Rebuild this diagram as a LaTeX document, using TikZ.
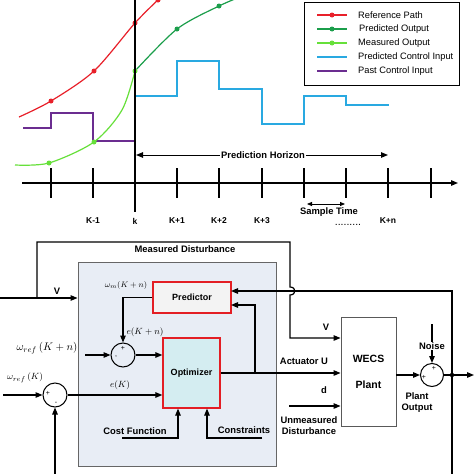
\documentclass[tikz,border=0pt]{standalone}
\usepackage{fontspec}
\setmainfont{Liberation Sans}
\usetikzlibrary{arrows.meta}
\definecolor{refred}{HTML}{E8202A}
\definecolor{predgreen}{HTML}{1B9E4B}
\definecolor{measgreen}{HTML}{66E03A}
\definecolor{ctrlblue}{HTML}{29A9E1}
\definecolor{pastpurple}{HTML}{6B2D90}
\definecolor{boxbg}{HTML}{E8EDF5}
\definecolor{optfill}{HTML}{D4EDF1}
\definecolor{predfill}{HTML}{F3F3F3}
\definecolor{boxred}{HTML}{E31E24}
\begin{document}
\begin{tikzpicture}[x=1pt,y=-1pt,
  lbl/.style={font=\fontsize{9.4}{11}\selectfont\bfseries, inner sep=0.5pt},
  tick/.style={font=\fontsize{8.5}{10}\selectfont\bfseries, inner sep=0.5pt},
  leg/.style={font=\fontsize{9.3}{11}\selectfont, anchor=west, inner sep=0pt},
  ln/.style={line width=1.2pt},
  arr/.style={line width=1.2pt, -{Triangle[length=7pt,width=5.5pt]}},
  sumc/.style={circle, draw, line width=1pt, minimum size=24pt, inner sep=0pt},
  pdot/.style={circle, fill=#1, inner sep=0pt, minimum size=5pt},
  redbox/.style={draw=boxred, line width=1.3pt, inner sep=0pt, font=\fontsize{9}{11}\selectfont\bfseries},
  sgn/.style={font=\fontsize{7}{8}\selectfont, inner sep=0pt},
  mth/.style={inner sep=0.5pt}
]
\clip (0,0) rectangle (474,474);
\fill[white] (0,0) rectangle (474,474);

% ---------------- top plot ----------------
\draw[ln, pastpurple] (23,128) -- (51,128) -- (51,113) -- (93,113) -- (93,141) -- (135,141);
\draw[ln, ctrlblue] (135,141) -- (135,96) -- (177,96) -- (177,61) -- (219,61) -- (219,89) -- (262,89) -- (262,124) -- (304,124) -- (304,96) -- (346,96) -- (346,105) -- (389,105);
\draw[ln, refred] plot[smooth] coordinates {(19,117) (51,101) (94,71) (135,23) (160,-2)};
\draw[ln, predgreen] plot[smooth] coordinates {(135,71) (177,29) (219,6) (245,-5)};
\draw[ln, measgreen] plot[smooth] coordinates {(15,165) (49,163) (94,142) (122,110) (135,71)};
\foreach \p in {(51,101),(94,71),(135,23),(158,0)} \node[pdot=refred] at \p {};
\foreach \p in {(177,29),(219,6)} \node[pdot=predgreen] at \p {};
\foreach \p in {(49,163),(94,142),(135,71)} \node[pdot=measgreen] at \p {};

\draw[ln] (135,0) -- (135,212);
\draw[arr] (22,183) -- (458,183);
\foreach \x in {51,93,177,219,262,304,346,388,431} \draw[ln] (\x,168) -- (\x,198);

\node[tick] (km1) at (93,221) {K-1};
\node[tick] (k0) at (135,221) {k};
\node[tick] (kp1) at (177,221) {K+1};
\node[tick] (kp2) at (219,221) {K+2};
\node[tick] (kp3) at (262,221) {K+3};
\node[tick] (kpn) at (388,221) {K+n};
\node[lbl] (st) at (329,212) {Sample Time};
\node[font=\fontsize{10.5}{11}\selectfont, inner sep=0pt, anchor=base] (dots) at (348,225) {.........};
\coordinate (sta) at (307,204);
\coordinate (stb) at (345,204);
\draw[line width=0.8pt, {Triangle[length=5pt,width=4pt]}-{Triangle[length=5pt,width=4pt]}] (sta) -- (stb);

\node[lbl, fill=white, inner xsep=1pt] (ph) at (263,155) {Prediction Horizon};
\coordinate (phl) at (136,155);
\coordinate (phr) at (388,155);
\draw[arr, line width=1pt] (ph.west) -- (phl);
\draw[arr, line width=1pt] (ph.east) -- (phr);

% legend
\draw[line width=1pt, fill=white] (304,2) rectangle (459,85);
\draw[ln, refred] (317,15) -- (347,15); \node[pdot=refred] at (332,15) {};
\draw[ln, predgreen] (317,29) -- (347,29); \node[pdot=predgreen] at (332,29) {};
\draw[ln, measgreen] (317,43) -- (347,43); \node[pdot=measgreen] at (332,43) {};
\draw[ln, ctrlblue] (317,57) -- (347,57);
\draw[ln, pastpurple] (317,71) -- (347,71);
\node[leg] (l1) at (358,15) {Reference Path};
\node[leg] (l2) at (359,29) {Predicted Output};
\node[leg] (l3) at (358,43) {Measured Output};
\node[leg] (l4) at (358,57) {Predicted Control Input};
\node[leg] (l5) at (358,71) {Past Control Input};

% ---------------- block diagram ----------------
\node[draw=black!60, fill=boxbg, line width=0.9pt, minimum width=198pt, minimum height=204pt, inner sep=0pt] (mpc) at (177,364) {};
\node[redbox, fill=predfill, minimum width=78pt, minimum height=31pt] (pred) at (192,297.5) {Predictor};
\node[redbox, fill=optfill, minimum width=57pt, minimum height=70pt] (opt) at (191.5,373) {Optimizer};
\node[draw=black!65, fill=white, line width=0.9pt, minimum width=55pt, minimum height=109pt, inner sep=0pt, align=center, font=\fontsize{10.5}{26}\selectfont\bfseries] (plant) at (368.5,371.5) {WECS\\Plant};
\node[sumc] (sum1) at (123,355) {};
\node[sumc] (sum2) at (55,395) {};
\node[sumc, minimum size=23pt] (sum3) at (432,375) {};
\node[sgn] at (123,348) {+};
\node[sgn] at (116,357) {,};
\node[sgn] at (48,393) {+};
\node[sgn] at (56,403) {-};
\node[sgn] at (424,377) {+};
\node[sgn] at (434,368) {+};

% measured disturbance V
\coordinate (vin) at (0,298);
\coordinate (vbr) at (37,298);
\draw[arr] (vin) -- (vin -| mpc.west);
\coordinate (vtop) at (290,242);
\coordinate (bumpa) at (290,287);
\coordinate (bumpb) at (290,295);
\coordinate (vplant) at (290,338);
\draw[arr] (vbr) |- (vtop) -- (bumpa) .. controls (296.5,287) and (296.5,295) .. (bumpb) -- (vplant) -- (vplant -| plant.west);

% actuator
\coordinate (ubr) at (255,373);
\draw[arr] (opt.east) -- (opt.east -| plant.west);
\coordinate (pin2) at (231,305);
\draw[arr] (ubr) |- (pin2);

% feedback
\coordinate (fb) at (452,375);
\coordinate (fbtop) at (452,291);
\coordinate (fbbot) at (452,474);
\coordinate (pin1) at (231,291);
\draw[arr] (fbbot) -- (fbtop) -- (pin1);
\coordinate (s2bot) at (55,474);
\draw[arr] (s2bot) -- (sum2.south);

% d input
\coordinate (din) at (289,406);
\draw[arr] (din) -- (din -| plant.west);

% plant output & noise
\draw[arr] (plant.east |- sum3) -- (sum3.west);
\node[lbl] (nl) at (432,346) {Noise};
\coordinate (noise) at (432,324);
\draw[ln] (noise) -- (nl.north);
\draw[arr] (nl.south) -- (sum3.north);
\coordinate (outend) at (474,375);
\draw[ln] (sum3.east) -- (fb);
\draw[arr] (fb) -- (outend);
\fill (fb) circle (2.2pt);

% summers
\coordinate (r1in) at (85,355);
\draw[arr] (r1in) -- (sum1.west);
\draw[arr] (pred.west) -| (sum1.north);
\draw[arr] (sum1.east) -- (sum1.east -| opt.west);
\coordinate (r2in) at (3,395);
\draw[arr] (r2in) -- (sum2.west);
\draw[arr] (sum2.east) -- (sum2.east -| opt.west);

% cost & constraints
\coordinate (cfa) at (122,438);
\coordinate (cfb) at (178,408.6);
\draw[arr] (cfa) -| (cfb);
\coordinate (csa) at (262,438);
\coordinate (csb) at (207,408.6);
\draw[arr] (csa) -| (csb);

% labels
\node[lbl] (vl1) at (57,291) {V};
\node[lbl] (md) at (185,249) {Measured Disturbance};
\node[lbl] (vl2) at (326,327) {V};
\node[lbl] (au) at (304,361) {Actuator U};
\node[lbl] (dl) at (324,390) {d};
\node[lbl, align=center, font=\fontsize{9.4}{11}\selectfont\bfseries] (ud) at (309,425.5) {Unmeasured\\Disturbance};
\node[lbl, align=center, font=\fontsize{9.4}{11}\selectfont\bfseries] (po) at (417,402.5) {Plant\\Output};
\node[lbl] (cfl) at (135,431) {Cost Function};
\node[lbl] (csl) at (244,430) {Constraints};
\node[mth, font=\fontsize{8.5}{10}\selectfont] (wm) at (126,285) {$\omega_m(K+n)$};
\node[mth, font=\fontsize{9.5}{11}\selectfont] (ekn) at (145,332) {$e(K+n)$};
\node[mth, font=\fontsize{11}{13}\selectfont] (wr1) at (47,348) {$\omega_{ref}\,(K+n)$};
\node[mth, font=\fontsize{9.5}{11}\selectfont] (wr2) at (25,378) {$\omega_{ref}\,(K)$};
\node[mth, font=\fontsize{9}{11}\selectfont] (ek) at (120,385) {$e(K)$};
\end{tikzpicture}
\end{document}
